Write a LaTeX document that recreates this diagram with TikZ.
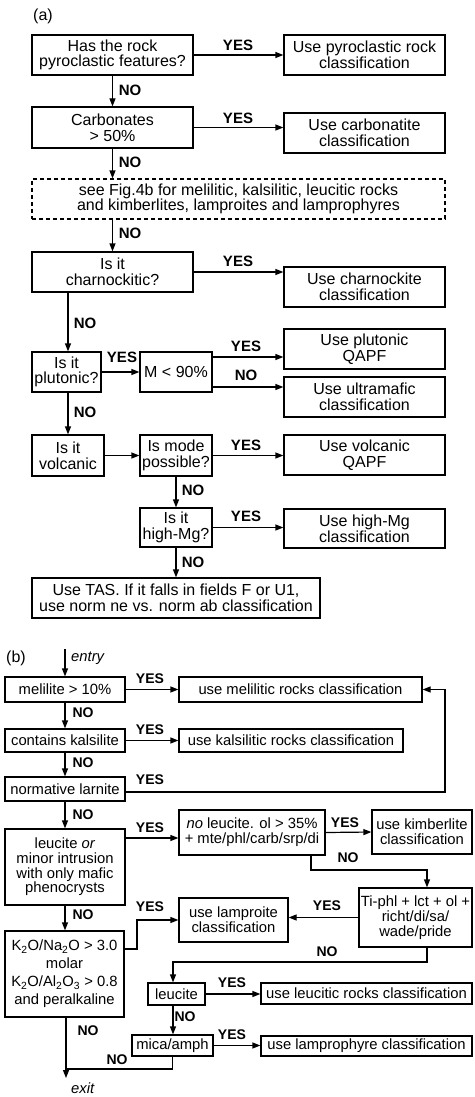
\documentclass[tikz,border=0pt]{standalone}
\usepackage{fontspec}
\setmainfont{Liberation Sans}
\usetikzlibrary{arrows.meta,calc}
\begin{document}
\begin{tikzpicture}[x=1pt,y=-1pt,
  box/.style={draw, line width=1.2pt, inner sep=0pt, align=center, font=\fontsize{16}{15.7}\selectfont},
  bbox/.style={draw, line width=1.2pt, inner sep=0pt, align=center, font=\fontsize{14.8}{14.7}\selectfont},
  con/.style={line width=1.2pt},
  arr/.style={line width=1.2pt, -{Triangle[length=8pt,width=6pt]}},
  lab/.style={font=\fontsize{15}{15}\selectfont\bfseries, inner sep=0pt},
  labb/.style={font=\fontsize{14}{14}\selectfont\bfseries, inner sep=0pt}
]
\path[use as bounding box] (0,0) rectangle (474,1097);

% ---------------- (a) ----------------
\node[font=\fontsize{16}{16}\selectfont, inner sep=0pt] (ta) at (43,16) {(a)};

\node[box, minimum width=161, minimum height=40] (a1) at (112.5,55) {Has the rock\\pyroclastic features?};
\node[box, minimum width=161, minimum height=40] (a1r) at (364.5,55) {Use pyroclastic rock\\classification};
\node[box, minimum width=161, minimum height=41] (a2) at (112.5,127.5) {Carbonates\\> 50\%};
\node[box, minimum width=161, minimum height=40] (a2r) at (364.5,133) {Use carbonatite\\classification};
\node[box, dash pattern=on 4pt off 3pt, minimum width=413, minimum height=40] (a3) at (238.5,199) {see Fig.4b for melilitic, kalsilitic, leucitic rocks\\and kimberlites, lamproites and lamprophyres};
\node[box, minimum width=161, minimum height=40] (a4) at (112.5,272) {Is it\\charnockitic?};
\node[box, minimum width=161, minimum height=40] (a4r) at (364.5,287) {Use charnockite\\classification};
\node[box, minimum width=69, minimum height=40] (a5) at (66.5,372) {Is it\\plutonic?};
\node[box, minimum width=72, minimum height=40] (a5m) at (176,372) {M < 90\%};
\node[box, minimum width=161, minimum height=40] (a5y) at (364.5,349) {Use plutonic\\QAPF};
\node[box, minimum width=161, minimum height=40] (a5n) at (364.5,397) {Use ultramafic\\classification};
\node[box, minimum width=72, minimum height=41] (a6) at (68,455.5) {Is it\\volcanic};
\node[box, minimum width=72, minimum height=41] (a6m) at (176,455.5) {Is mode\\possible?};
\node[box, minimum width=161, minimum height=40] (a6r) at (364.5,455) {Use volcanic\\QAPF};
\node[box, minimum width=72, minimum height=39] (a7) at (176,527.5) {Is it\\high-Mg?};
\node[box, minimum width=161, minimum height=39] (a7r) at (364.5,528.5) {Use high-Mg\\classification};
\node[box, minimum width=288, minimum height=40] (a8) at (176,598) {Use TAS. If it falls in fields F or U1,\\use norm ne vs. norm ab classification};

\draw[arr] (a1.east) -- (a1.east -| a1r.west);
\draw[arr] (a1.south) -- (a2.north);
\draw[arr] (a2.east) -- (a2.east -| a2r.west);
\draw[arr] (a2.south) -- (a2.south |- a3.north);
\draw[arr] (a3.north |- a3.south) ++(-126,0) coordinate (a3s) -- (a3s |- a4.north);
\draw[arr] (a4.east) -- (a4.east -| a4r.west);
\draw[arr] (a4.south -| a6.north) -- (a6.north |- a5.north);
\draw[arr] (a5.east) -- (a5.east -| a5m.west);
\draw[arr] ([yshift=15pt]a5m.east) -- ([yshift=15pt]a5m.east -| a5y.west);
\draw[arr] ([yshift=-15pt]a5m.east) -- ([yshift=-15pt]a5m.east -| a5n.west);
\draw[arr] (a5.south -| a6.north) -- (a6.north);
\draw[arr] (a6.east) -- (a6.east -| a6m.west);
\draw[arr] (a6m.east) -- (a6m.east -| a6r.west);
\draw[arr] (a6m.south) -- (a7.north);
\draw[arr] (a7.east) -- (a7.east -| a7r.west);
\draw[arr] (a7.south) -- (a7.south |- a8.north);

\node[lab] (y1) at (238,45) {YES};
\node[lab] (y2) at (238,118) {YES};
\node[lab] (y3) at (238,261) {YES};
\node[lab] (y4) at (122,357) {YES};
\node[lab] (y5) at (246,346) {YES};
\node[lab] (n5) at (246,375) {NO};
\node[lab] (y6) at (246,445) {YES};
\node[lab] (y7) at (246,516) {YES};
\node[lab] (n1) at (130,90) {NO};
\node[lab] (n2) at (130,162) {NO};
\node[lab] (n3) at (130,233) {NO};
\node[lab] (n4) at (85,323) {NO};
\node[lab] (n6) at (85,412) {NO};
\node[lab] (n7) at (193,490) {NO};
\node[lab] (n8) at (193,562) {NO};

% ---------------- (b) ----------------
\node[font=\fontsize{16}{16}\selectfont, inner sep=0pt] (tb) at (16,658) {(b)};

\node[bbox, minimum width=120, minimum height=25] (b1) at (65,689.5) {melilite > 10\%};
\node[bbox, minimum width=243, minimum height=25] (b1r) at (300.5,689.5) {use melilitic rocks classification};
\node[bbox, minimum width=120, minimum height=23] (b2) at (65,740.5) {contains kalsilite};
\node[bbox, minimum width=224, minimum height=23] (b2r) at (291,740.5) {use kalsilitic rocks classification};
\node[bbox, minimum width=120, minimum height=24] (b3) at (65,789) {normative larnite};
\node[bbox, minimum width=120, minimum height=76] (b4) at (65,867) {leucite \textit{or}\\minor intrusion\\with only mafic\\phenocrysts};
\node[bbox, minimum width=146, minimum height=45] (b4r) at (252,832.5) {\textit{no} leucite. ol > 35\%\\+ mte/phl/carb/srp/di};
\node[bbox, minimum width=100, minimum height=44] (b4k) at (422,832) {use kimberlite\\classification};
\node[bbox, minimum width=113, minimum height=59] (b5t) at (415.5,917.5) {Ti-phl + lct + ol +\\richt/di/sa/\\wade/pride};
\node[bbox, minimum width=109, minimum height=44] (b5l) at (233.5,920) {use lamproite\\classification};
\node[bbox, font=\fontsize{14.8}{18}\selectfont, minimum width=119, minimum height=86] (b5) at (64.5,974) {K\textsubscript{2}O/Na\textsubscript{2}O > 3.0\\molar\\K\textsubscript{2}O/Al\textsubscript{2}O\textsubscript{3} > 0.8\\and peralkaline};
\node[bbox, minimum width=57, minimum height=22] (b6) at (176.5,994) {leucite};
\node[bbox, minimum width=211, minimum height=21] (b6r) at (366.5,993.5) {use leucitic rocks classification};
\node[bbox, minimum width=81, minimum height=21] (b7) at (172.5,1045.5) {mica/amph};
\node[bbox, minimum width=211, minimum height=20] (b7r) at (366.5,1046) {use lamprophyre classification};

\coordinate (entry) at (65,649);
\coordinate (ret) at (445,792);
\coordinate (k1) at (311,870);
\coordinate (k2) at (427,870);
\coordinate (j1) at (137,949);
\coordinate (m1) at (427,962);
\coordinate (m2) at (173,962);
\coordinate (n1) at (66,1069);
\coordinate (exit) at (66,1078);

\node[font=\fontsize{14.8}{14.8}\selectfont\itshape, anchor=west, inner sep=0pt] (ten) at (71,658) {entry};
\node[font=\fontsize{14.8}{14.8}\selectfont\itshape, anchor=west, inner sep=0pt] (tex) at (71,1088) {exit};

\draw[arr] (entry) -- (b1.north);
\draw[arr] (b1.east) -- (b1r.west);
\draw[arr] (b1.south) -- (b2.north);
\draw[arr] (b2.east) -- (b2r.west);
\draw[arr] (b2.south) -- (b3.north);
\draw[arr] (b3.east |- ret) -- (ret) -- (ret |- b1r.east) -- (b1r.east);
\draw[arr] (b3.south) -- (b4.north);
\draw[arr] ([yshift=-5.5pt]b4r.west -| b4.east) -- ([yshift=-5.5pt]b4r.west);
\draw[arr] (b4r.east) -- (b4k.west);
\draw[arr] (b4r.south -| k1) -- (k1) -- (k2) -- (k2 |- b5t.north);
\draw[arr] (b5t.west) -- (b5t.west -| b5l.east);
\draw[arr] (b4.south) -- (b4.south |- b5.north);
\draw[arr] (b5.east |- j1) -- (j1) |- (b5l.west);
\draw[arr] (m1 |- b5t.south) -- (m1) -- (m2) -- (m2 |- b6.north);
\draw[arr] (b6.east) -- (b6.east -| b6r.west);
\draw[arr] (m2 |- b6.south) -- (m2 |- b7.north);
\draw[arr] (b7.east) -- (b7.east -| b7r.west);
\draw[con] (b7.south) |- (n1);
\draw[arr] (b5.south -| exit) -- (exit);

\node[labb] (by1) at (150,679) {YES};
\node[labb] (bn1) at (83,713) {NO};
\node[labb] (by2) at (150,730) {YES};
\node[labb] (bn2) at (83,763) {NO};
\node[labb] (by3) at (150,780) {YES};
\node[labb] (bn3) at (83,815) {NO};
\node[labb] (by4) at (150,828) {YES};
\node[labb] (by5) at (345,823) {YES};
\node[labb] (bn5) at (348,858) {NO};
\node[labb] (by6) at (327,906) {YES};
\node[labb] (by7) at (150,907) {YES};
\node[labb] (bn4) at (83,915) {NO};
\node[labb] (bn6) at (327,952) {NO};
\node[labb] (by8) at (232,983) {YES};
\node[labb] (bn7) at (185,1017) {NO};
\node[labb] (by9) at (232,1035) {YES};
\node[labb] (bn8) at (88,1031) {NO};
\node[labb] (bn9) at (117,1060) {NO};
\end{tikzpicture}
\end{document}
